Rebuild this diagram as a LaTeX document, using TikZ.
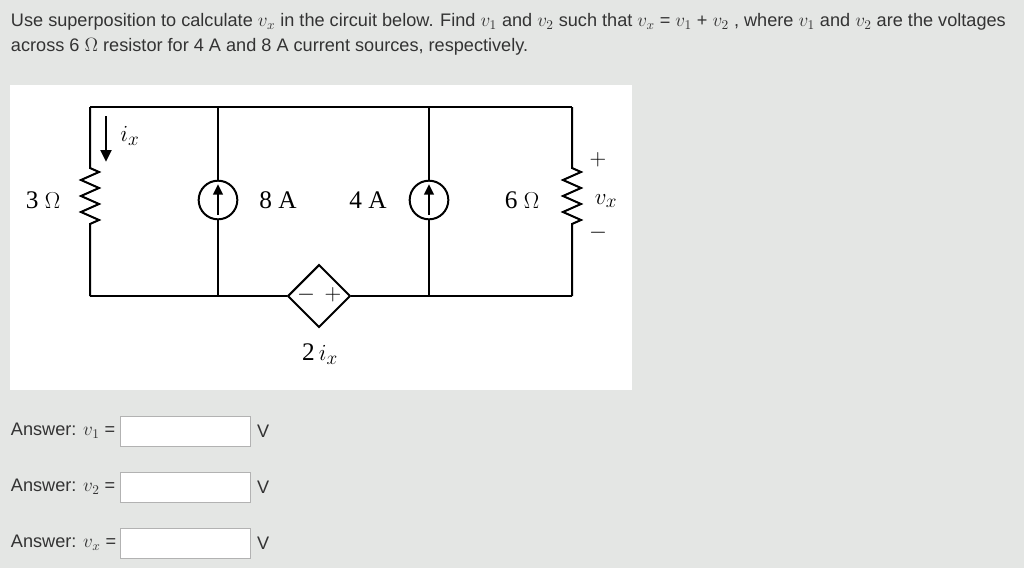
\documentclass[tikz,border=0pt]{standalone}
\usepackage{fontspec}
\setmainfont{Liberation Sans}
\newfontfamily\serif{Liberation Serif}
\usetikzlibrary{shapes.geometric,arrows.meta}
\definecolor{bg}{HTML}{E4E6E4}
\definecolor{txt}{HTML}{333333}
\begin{document}
\begin{tikzpicture}[x=0.75pt,y=-0.75pt,line width=1.5pt,
  lbl/.style={font=\serif\fontsize{19}{19}\selectfont},
  qtext/.style={font=\fontsize{13.6}{16}\selectfont,text=txt,anchor=west,inner sep=0},
  ansbox/.style={draw=gray!60,fill=white,line width=0.6pt,minimum width=97.5pt,minimum height=22.5pt,inner sep=0}]
\fill[bg] (0,0) rectangle (1024,568);
\useasboundingbox (0,0) rectangle (1024,568);
\node[qtext] (q1) at (10,22) {Use superposition to calculate $v_x$ in the circuit below. Find $v_1$ and $v_2$ such that $v_x$ = $v_1$ + $v_2$ , where $v_1$ and $v_2$ are the voltages};
\node[qtext] (q2) at (10,47) {across 6 $\Omega$ resistor for 4 A and 8 A current sources, respectively.};
\fill[white] (10,85) rectangle (632,390);
\coordinate (tl) at (90,107); \coordinate (tr) at (572,107);
\coordinate (bl) at (90,296); \coordinate (br) at (572,296);
\coordinate (t8) at (218,107); \coordinate (b8) at (218,296);
\coordinate (t4) at (429,107); \coordinate (b4) at (429,296);
\node[draw,circle,minimum size=29pt,inner sep=0] (s8) at (218,200) {};
\node[draw,circle,minimum size=29pt,inner sep=0] (s4) at (429,200) {};
\node[draw,diamond,minimum width=47pt,minimum height=47pt,inner sep=0] (dep) at (319,296) {};
\draw (tl) -- (tr);
\draw (tl) -- (90,168) -- ++(9,4) -- ++(-18,8) -- ++(18,8) -- ++(-18,8) -- ++(18,8) -- ++(-18,8) -- ++(18,8) -- ++(-9,4) -- (bl);
\draw (tr) -- (572,168) -- ++(9,4) -- ++(-18,8) -- ++(18,8) -- ++(-18,8) -- ++(18,8) -- ++(-18,8) -- ++(18,8) -- ++(-9,4) -- (br);
\draw (bl) -- (dep.west); \draw (dep.east) -- (br);
\draw (t8) -- (s8.north); \draw (s8.south) -- (b8);
\draw (t4) -- (s4.north); \draw (s4.south) -- (b4);
\draw[-{Triangle[length=8pt,width=7pt]},line width=2.2pt] (218,215) -- (218,184);
\draw[-{Triangle[length=8pt,width=7pt]},line width=2.2pt] (429,215) -- (429,184);
\draw[-{Triangle[length=9pt,width=8pt]},line width=2.2pt] (106,116) -- (106,162);
\node[lbl] (m) at (306,295) {$-$};
\node[lbl] (p) at (333,295) {$+$};
\node[lbl] (r3) at (43,200) {3 $\Omega$};
\node[lbl] (a8) at (278,200) {8 A};
\node[lbl] (a4) at (368,200) {4 A};
\node[lbl] (r6) at (522,200) {6 $\Omega$};
\node[lbl] (vx) at (606,201) {$v_x$};
\node[lbl] (vp) at (598,160) {$+$};
\node[lbl] (vm) at (598,233) {$-$};
\node[lbl] (ix) at (130,136) {$i_x$};
\node[lbl] (dl) at (320,354) {2\,$i_x$};
\foreach \y/\v [count=\i] in {431/v_1,487/v_2,543/v_x}{
  \node[qtext] (al\i) at (10,\y) {Answer: $\v$ =};
  \node[ansbox] (ab\i) at (185,\y) {};
  \node[qtext] (au\i) at (256,\y) {V};
}
\end{tikzpicture}
\end{document}
